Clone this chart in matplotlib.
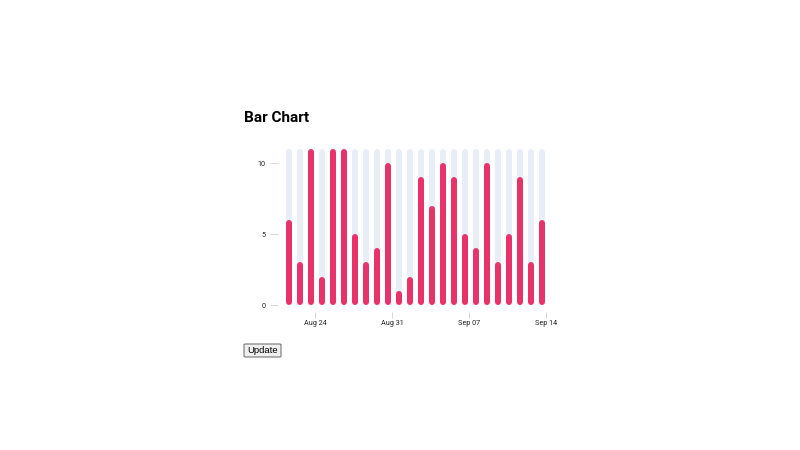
import matplotlib
matplotlib.use('Agg')
import matplotlib.pyplot as plt
from matplotlib.patches import FancyBboxPatch
import pandas as pd

# one bar per day
dates = pd.date_range('2023-08-22', '2023-09-14', freq='D')
values = [6, 3, 11, 2, 11, 11, 5, 3, 4, 10, 1, 2, 9, 7, 10, 9, 5, 4, 10, 3, 5, 9, 3, 6]
tick_dates = ['2023-08-24', '2023-08-31', '2023-09-07', '2023-09-14']
y_ticks = [0, 5, 10]

BAR_COLOR = '#e8336a'
BG_COLOR = '#e9eef6'
TICK_SHIFT = 0.33  # time axis sits a bit right of the band centres

W, H = 800, 450
fig = plt.figure(figsize=(W / 100, H / 100), dpi=100)
plt.rcParams['font.family'] = ['Roboto', 'DejaVu Sans']

# axes placed in pixel terms
left_px, right_px, top_px, bottom_px = 278, 556, 149, 305
ax = fig.add_axes([left_px / W, 1 - bottom_px / H, (right_px - left_px) / W, (bottom_px - top_px) / H])

ymax = max(values)
first_px = 289.3
step_px = 11.0
ax.set_xlim((left_px - first_px) / step_px, (right_px - first_px) / step_px)
ax.set_ylim(0, ymax)

bar_px = 6
px_per_unit = (bottom_px - top_px) / ymax
r = (bar_px / 2) / px_per_unit
lw = bar_px * 0.72

x = list(range(len(dates)))
ax.vlines(x, r, ymax - r, colors=BG_COLOR, linewidth=lw, capstyle='round')
ax.vlines(x, r, [v - r for v in values], colors=BAR_COLOR, linewidth=lw, capstyle='round')

for s in ax.spines.values():
    s.set_visible(False)
ax.spines['bottom'].set_position(('outward', 5))

tick_pos = [list(dates).index(pd.Timestamp(d)) + TICK_SHIFT for d in tick_dates]
ax.set_xticks(tick_pos)
ax.set_xticklabels([pd.Timestamp(d).strftime('%b %d') for d in tick_dates])
ax.set_yticks(y_ticks)
ax.tick_params(axis='both', colors='#d0d0d0', labelcolor='#222222', labelsize=5.2, width=0.6)
ax.tick_params(axis='x', length=4, pad=1.5)
ax.tick_params(axis='y', length=6, pad=3)

fig.text(244 / W, 1 - 121.5 / H, 'Bar Chart', fontsize=11, fontweight='bold', color='#000000')

# Update button
btn = FancyBboxPatch((244 / W, 1 - 357 / H), 37 / W, 13 / H, boxstyle='round,pad=0,rounding_size=0.002',
                     transform=fig.transFigure, facecolor='#efefef', edgecolor='#767676', linewidth=0.8)
fig.patches.append(btn)
fig.text(262.5 / W, 1 - 350.5 / H, 'Update', fontsize=6.8, ha='center', va='center', color='#000000',
         family=['Liberation Sans', 'DejaVu Sans'])

fig.savefig('out.png', dpi=100)
